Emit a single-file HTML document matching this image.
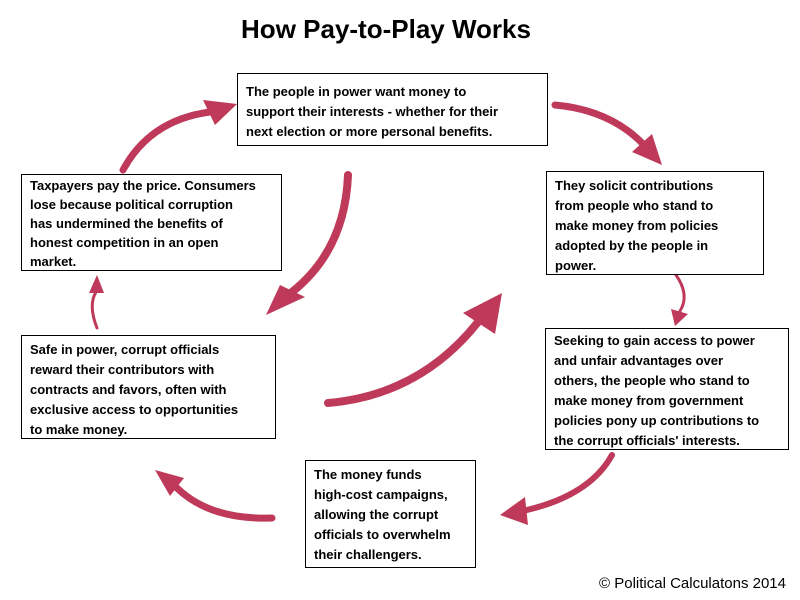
<!DOCTYPE html>
<html><head><meta charset="utf-8"><style>
body{margin:0;width:800px;height:600px;background:#fff;position:relative;overflow:hidden;font-family:"Liberation Sans",sans-serif}
.t{position:absolute;left:0;width:772px;text-align:center;top:14px;font-size:26px;font-weight:bold;color:#000}
.b{position:absolute;border:1px solid #000;background:#fff;font-size:13px;font-weight:bold;line-height:20px;padding:0 8px;box-sizing:border-box;color:#000;white-space:nowrap}
.c{position:absolute;right:14px;bottom:8px;font-size:15px}
svg{position:absolute;left:0;top:0}
</style></head><body>
<div class="t">How Pay-to-Play Works</div>
<svg width="800" height="600">
<g fill="none" stroke="#bf3a5a" stroke-linecap="round">
<path d="M123,170 Q150,120 210,112" stroke-width="7"/>
<path d="M555,105 Q610,110 643,144" stroke-width="7"/>
<path d="M348,175 Q345,250 292,292" stroke-width="8"/>
<path d="M328,403 Q420,395 478,322" stroke-width="8"/>
<path d="M676,275 Q690,295 680,311" stroke-width="3"/>
<path d="M612,455 Q590,495 527,510" stroke-width="6"/>
<path d="M272,518 Q210,520 177,488" stroke-width="7"/>
<path d="M97,328 Q88,305 96,292" stroke-width="3"/>
</g>
<g fill="#bf3a5a">
<polygon points="237,104 203,100 215,125"/>
<polygon points="662,165 632,152 652,134"/>
<polygon points="266,315 280,285 305,297"/>
<polygon points="502,293 463,313 495,334"/>
<polygon points="675,326 671,309 688,314"/>
<polygon points="500,515 525,497 528,525"/>
<polygon points="155,470 184,478 170,496"/>
<polygon points="97,275 89,293 104,293"/>
</g>
</svg>
<div class="b" style="left:237px;top:73px;width:311px;height:73px;padding-top:8px">The people in power want money to<br>support their interests - whether for their<br>next election or more personal benefits.</div>
<div class="b" style="left:546px;top:171px;width:218px;height:104px;padding-top:4px">They solicit contributions<br>from people who stand to<br>make money from policies<br>adopted by the people in<br>power.</div>
<div class="b" style="left:21px;top:174px;width:261px;height:97px;padding-top:1px;line-height:19px">Taxpayers pay the price. Consumers<br>lose because political corruption<br>has undermined the benefits of<br>honest competition in an open<br>market.</div>
<div class="b" style="left:21px;top:335px;width:255px;height:104px;padding-top:4px">Safe in power, corrupt officials<br>reward their contributors with<br>contracts and favors, often with<br>exclusive access to opportunities<br>to make money.</div>
<div class="b" style="left:545px;top:328px;width:244px;height:122px;padding-top:2px">Seeking to gain access to power<br>and unfair advantages over<br>others, the people who stand to<br>make money from government<br>policies pony up contributions to<br>the corrupt officials' interests.</div>
<div class="b" style="left:305px;top:460px;width:171px;height:108px;padding-top:4px">The money funds<br>high-cost campaigns,<br>allowing the corrupt<br>officials to overwhelm<br>their challengers.</div>
<div class="c">© Political Calculatons 2014</div>
</body></html>
